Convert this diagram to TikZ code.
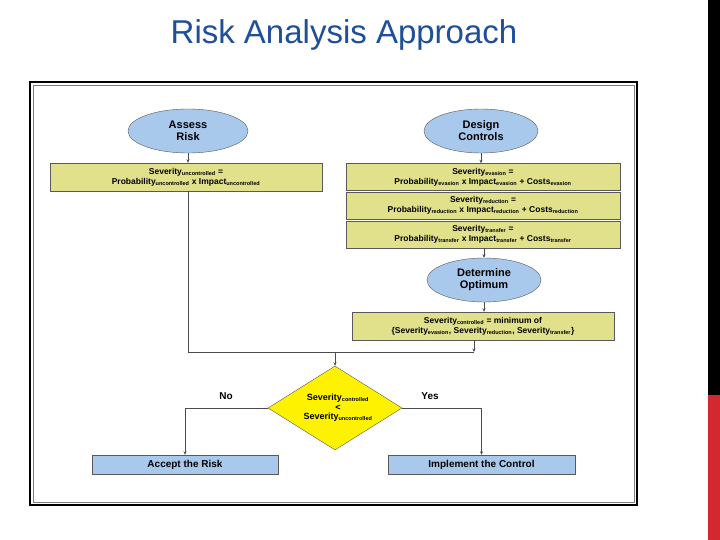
\documentclass[tikz,border=0pt]{standalone}
\usepackage{fontspec}
\setmainfont{Liberation Sans}
\usetikzlibrary{shapes.geometric,arrows.meta}
\newcommand{\sbs}[1]{\textsubscript{\fontsize{5.5}{5.5}\selectfont #1}}
\definecolor{ttl}{HTML}{1F4E9A}
\definecolor{ell}{HTML}{A9C9EC}
\definecolor{ybox}{HTML}{E1E18C}
\definecolor{bbox}{HTML}{A9C9EC}
\definecolor{rbar}{HTML}{D3282E}
\tikzset{
  x=1pt,y=-1pt,
  oval/.style={ellipse,draw=gray!70!black,fill=ell,font=\bfseries\fontsize{11}{12}\selectfont,align=center,inner sep=0pt},
  formula/.style={rectangle,draw=gray!70!black,fill=ybox,font=\bfseries\fontsize{8.5}{10}\selectfont,align=center,inner sep=0pt},
  result/.style={rectangle,draw=gray!70!black,fill=bbox,font=\bfseries\fontsize{10}{11}\selectfont,inner sep=0pt},
  conn/.style={draw=gray!60!black,line width=0.8pt},
  arr/.style={conn,-{Stealth[length=3.5pt,width=3pt]}},
  lbl/.style={font=\bfseries\fontsize{10}{11}\selectfont}
}
\begin{document}
\begin{tikzpicture}
\useasboundingbox (0,0) rectangle (720,540);
\fill[white] (0,0) rectangle (720,540);
\fill[black] (708,0) rectangle (720,395);
\fill[rbar] (708,395) rectangle (720,540);
\node[text=ttl,font=\fontsize{33}{36}\selectfont] (title) at (344,35) {Risk Analysis Approach};
\draw[line width=1.2pt] (30,82) rectangle (637,505);
\draw[gray,line width=0.6pt] (33,85) rectangle (634,502);

\node[oval,minimum width=120,minimum height=44] (assess) at (188,131) {Assess\\Risk};
\node[oval,minimum width=114,minimum height=44] (design) at (481,131) {Design\\Controls};
\node[formula,minimum width=272,minimum height=28] (unc) at (186,177) {Severity\sbs{uncontrolled} =\\Probability\sbs{uncontrolled} x Impact\sbs{uncontrolled}};
\node[formula,minimum width=274,minimum height=27] (eva) at (483,177) {Severity\sbs{evasion} =\\Probability\sbs{evasion} x Impact\sbs{evasion} + Costs\sbs{evasion}};
\node[formula,minimum width=274,minimum height=27] (red) at (483,205.5) {Severity\sbs{reduction} =\\Probability\sbs{reduction} x Impact\sbs{reduction} + Costs\sbs{reduction}};
\node[formula,minimum width=274,minimum height=27] (tra) at (483,234.5) {Severity\sbs{transfer} =\\Probability\sbs{transfer} x Impact\sbs{transfer} + Costs\sbs{transfer}};
\node[oval,minimum width=114,minimum height=44] (opt) at (484,280) {Determine\\Optimum};
\node[formula,minimum width=262,minimum height=28] (ctl) at (483,326) {Severity\sbs{controlled} = minimum of\\\{Severity\sbs{evasion}, Severity\sbs{reduction}, Severity\sbs{transfer}\}};
\node[diamond,draw=gray!70!black,fill=yellow,minimum width=134,minimum height=84,inner sep=0pt,aspect=1.6] (dec) at (335,408) {};
\node[font=\bfseries\fontsize{9}{9.5}\selectfont,align=center] (dectxt) at (338,408) {Severity\sbs{controlled}\\<\\Severity\sbs{uncontrolled}};
\node[result,minimum width=186,minimum height=19] (accept) at (185,464.5) {Accept the Risk};
\node[result,minimum width=187,minimum height=19] (impl) at (481.5,464.5) {Implement the Control};
\node[lbl] (no) at (226,396) {No};
\node[lbl] (yes) at (430,396) {Yes};

\coordinate (j) at (474,352);
\draw[arr] (assess) -- (assess|-unc.north);
\draw[arr] (design) -- (design|-eva.north);
\draw[arr] (tra.south-|opt) -- (opt);
\draw[arr] (opt) -- (opt|-ctl.north);
\draw[conn] (unc.south-|assess) |- (j);
\draw[arr] (ctl.south-|j) -- (j);
\draw[arr] (dec.north|-j) -- (dec.north);
\draw[arr] (dec.west) -| (accept.north);
\draw[arr] (dec.east) -| (impl.north);
\end{tikzpicture}
\end{document}
